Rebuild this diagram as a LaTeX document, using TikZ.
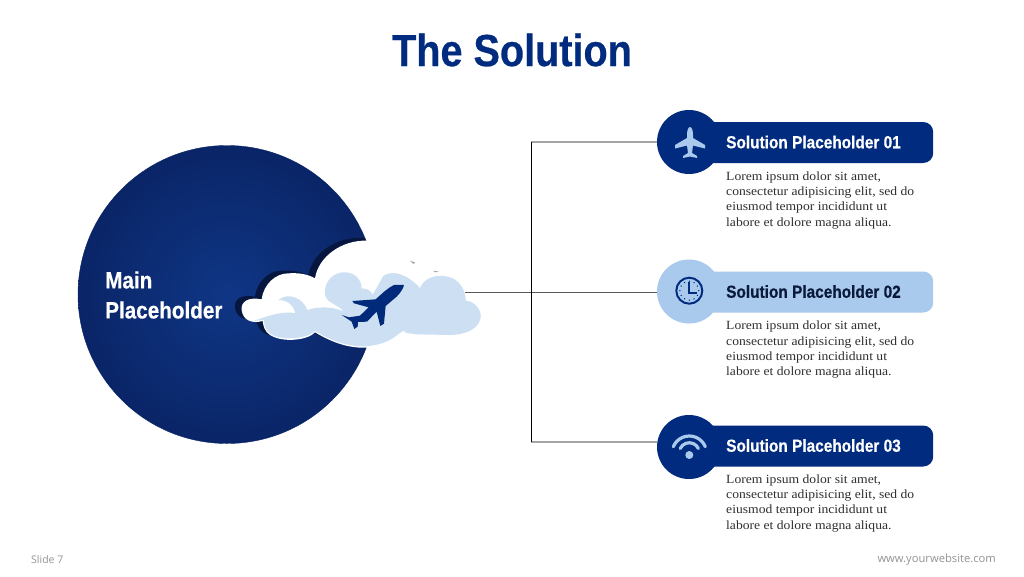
\documentclass[tikz,border=0pt]{standalone}
\usepackage{fontspec}
\setmainfont{Liberation Sans}
\newfontfamily\condbase[FakeStretch=0.88,FakeBold=0.5]{Liberation Sans}
\newcommand{\condb}{\condbase\bfseries}
\newfontfamily\bodyf[FakeStretch=1.09]{Liberation Serif}
\newfontfamily\footf{Open Sans}
\definecolor{navy}{HTML}{002B7F}
\definecolor{navyd}{HTML}{0A2567}
\definecolor{navyc}{HTML}{0F3685}
\definecolor{sky}{HTML}{A9CAEC}
\definecolor{pale}{HTML}{CDE0F3}
\definecolor{ink}{HTML}{0A1A3C}
\definecolor{bodyc}{HTML}{2E2E2E}
\tikzset{
 x=1pt,y=-1pt,
 banner/.style={rounded corners=10pt,minimum width=244pt,minimum height=41pt,inner sep=0pt},
 badge/.style={circle,minimum size=64pt,inner sep=0pt},
 headt/.style={anchor=west,inner sep=0pt,font=\condb\fontsize{17.5}{20}\selectfont},
 bodyt/.style={anchor=north west,inner sep=0pt,align=left,text=bodyc,font=\bodyf\fontsize{12.5}{15.3}\selectfont},
 link/.style={draw=black,line width=0.7pt},
 foot/.style={inner sep=0pt,text=gray!85,font=\footf\fontsize{10.5}{12}\selectfont}
}
\newcommand{\loremtext}{Lorem ipsum dolor sit amet,\\consectetur adipisicing elit, sed do\\eiusmod tempor incididunt ut\\labore et dolore magna aliqua.}
\newcommand{\cloudshape}{(65,270) .. controls (62,245) and (85,230) .. (125,238) .. controls (130,195) and (165,160) .. (205,160) .. controls (235,158) and (262,162) .. (285,175) .. controls (295,110) and (365,60) .. (440,62) .. controls (500,62) and (520,120) .. (510,165) -- (560,330) .. controls (530,345) and (525,375) .. (440,383) .. controls (390,385) and (340,370) .. (285,337) .. controls (265,360) and (190,370) .. (150,345) .. controls (135,335) and (130,320) .. (128,303) .. controls (95,312) and (68,300) .. (65,270) -- cycle}
\begin{document}
\begin{tikzpicture}
\useasboundingbox (0,0) rectangle (1024,576);
\fill[white] (0,0) rectangle (1024,576);
\node[inner sep=0pt,text=navy,font=\condb\fontsize{45}{50}\selectfont] (title) at (512,50) {The Solution};
% main circle
\node[circle,minimum size=298pt,inner sep=0pt,inner color=navyc,outer color=navyd,draw=navyd,line width=0.4pt] (main) at (227,294.5) {};
\node[anchor=west,inner sep=0pt,align=left,text=white,font=\condb\fontsize{23.5}{30}\selectfont] (maint) at (105,295) {Main\\Placeholder};
% connectors
\coordinate (hub) at (465,292.6);
\coordinate (elbow1) at (531.5,142);
\coordinate (elbow3) at (531.5,442);
\node[badge,fill=navy] (c1) at (689,142) {};
\node[badge,fill=sky] (c2) at (689,291.5) {};
\node[badge,fill=navy] (c3) at (689,447) {};
\draw[link] (hub) -- (c2.182);
\draw[link] (c1.west) -- (elbow1) -- (elbow3) -- (c3.171);
% banners
\node[banner,fill=navy,anchor=west] (b1) at (689,142.5) {};
\node[banner,fill=sky,anchor=west] (b2) at (689,292) {};
\node[banner,fill=navy,anchor=west] (b3) at (689,446) {};
\node[headt,text=white] (h1) at (726,142) {Solution Placeholder 01};
\node[headt,text=ink] (h2) at (726,291.5) {Solution Placeholder 02};
\node[headt,text=white] (h3) at (726,445.5) {Solution Placeholder 03};
\node[bodyt] (t1) at (726,171.5) {\loremtext};
\node[bodyt] (t2) at (726,321) {\loremtext};
\node[bodyt] (t3) at (726,474.5) {\loremtext};
% plane icon
\begin{scope}[shift={(1,0)}]
\fill[sky] (689,127) .. controls (691,127) and (692,131) .. (692,135) -- (692,138)
 -- (704,145) -- (704,148.5) -- (692,145.5) -- (691,153) -- (696,156) -- (696,158) -- (689,156.5)
 -- (682,158) -- (682,156) -- (687,153) -- (686,145.5) -- (674,148.5) -- (674,145) -- (686,138) -- (686,135)
 .. controls (686,131) and (687,127) .. (689,127) -- cycle;
\end{scope}
% clock icon
\draw[navy,line width=2pt] (689.3,290.7) circle (13);
\foreach \a in {0,30,...,330}
  \fill[navy] (689.3,290.7) ++(\a:9.4) circle (0.75);
\draw[navy,line width=1.7pt] (689.3,282) -- (689.3,292.7) -- (697,292.7);
% wifi icon
\fill[sky] (689.3,455) circle (4);
\draw[sky,line width=3.2pt,line cap=round] (680.24,448.5) arc[start angle=-155,delta angle=130,radius=10];
\draw[sky,line width=3.2pt,line cap=round] (673.3,446.7) arc[start angle=-157.6,delta angle=135.2,radius=17.3];
% cloud, in coordinates of a 3x crop
\begin{scope}[shift={(220,220)},x=0.3333pt,y=-0.3333pt]
 \begin{scope}
  \clip (21,223.5) circle (447);
  \fill[navyd!60!black,shift={(-20,-8)}] \cloudshape;
 \end{scope}
 % rear cloud
 \fill[pale] (490,168) .. controls (515,150) and (560,160) .. (600,205) .. controls (610,175) and (645,165) .. (670,168)
   .. controls (710,170) and (735,200) .. (738,242) .. controls (770,245) and (790,280) .. (780,300)
   .. controls (770,335) and (720,345) .. (690,345) -- (590,343) .. controls (560,340) and (540,335) .. (520,320) -- (480,220) -- cycle;
 % front cloud
 \fill[white] \cloudshape;
 \fill[pale] (100,303) .. controls (150,285) and (195,272) .. (226,280) .. controls (222,258) and (205,240) .. (175,240)
   .. controls (205,215) and (250,235) .. (262,270) .. controls (300,258) and (340,260) .. (372,275)
   .. controls (350,250) and (318,250) .. (315,222) .. controls (312,180) and (345,155) .. (375,157)
   .. controls (405,157) and (425,180) .. (425,205) .. controls (445,205) and (455,215) .. (458,225)
   -- (490,168) .. controls (515,150) and (560,160) .. (600,205) -- (600,330) -- (552,332)
   .. controls (530,340) and (520,370) .. (440,379) .. controls (390,381) and (340,366) .. (285,333)
   .. controls (265,355) and (190,365) .. (152,342) .. controls (138,332) and (133,318) .. (131,300) -- cycle;
 % birds and plane
 \fill[gray!70] (570,122) -- (585,127) -- (580,132) -- cycle (640,152) -- (657,155) -- (645,157) -- cycle;
 \fill[navy!85!navyd] (552,195) -- (522,195) .. controls (505,203) and (490,217) .. (467,238) -- (397,243) -- (402,250) -- (446,262)
   -- (420,287) -- (387,292) -- (365,285) -- (395,305) -- (403,327) -- (413,320) -- (414,306) -- (441,305) -- (470,275) -- (481,318) -- (492,311) -- (497,258) -- (530,230) .. controls (542,218) and (550,205) .. (552,195) -- cycle;
\end{scope}
\node[foot,anchor=west] (slide) at (31,559.5) {Slide 7};
\node[foot,anchor=east,font=\footf\fontsize{11.2}{12}\selectfont] (web) at (996,559.5) {www.yourwebsite.com};
\end{tikzpicture}
\end{document}
